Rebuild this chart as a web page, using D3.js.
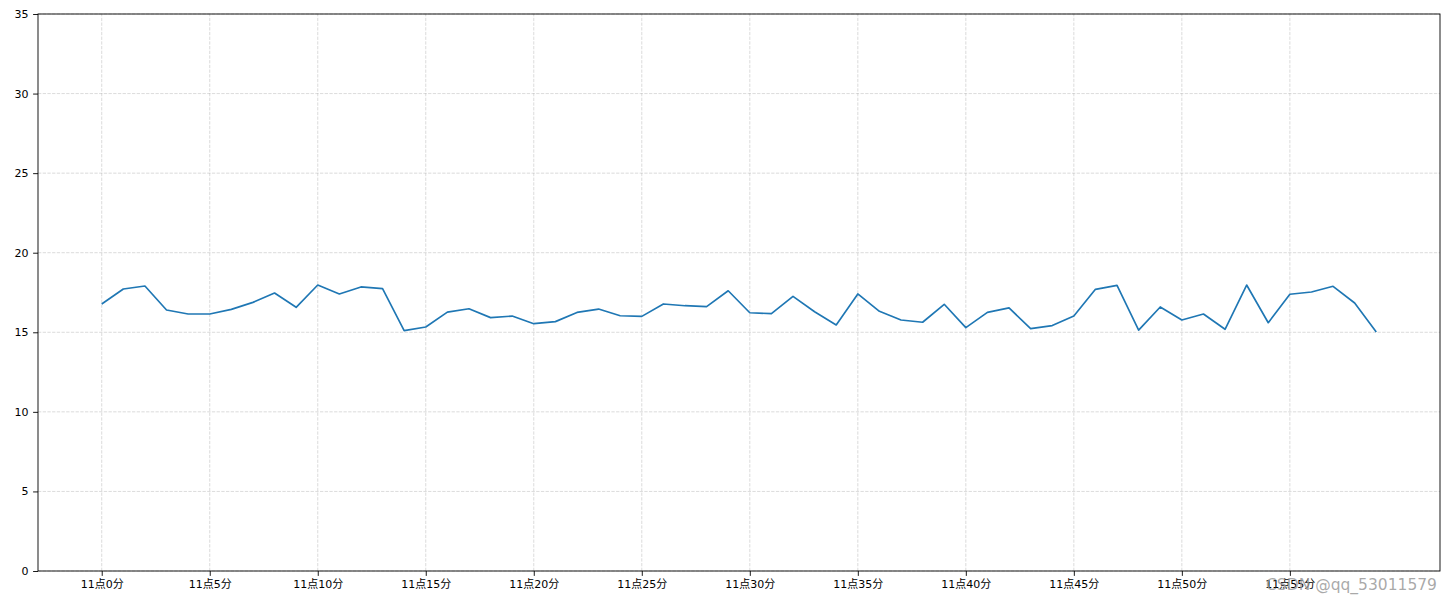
<!DOCTYPE html>
<html>
<head>
<meta charset="utf-8">
<script src="https://cdn.jsdelivr.net/npm/d3@7"></script>
<style>
  body { margin: 0; background: #fff; }
  svg text { font-family: "DejaVu Sans", "Noto Sans CJK SC", sans-serif; }
</style>
</head>
<body>
<div id="chart"></div>
<script>
// chart data: shanghai temperature, 11:00 - 11:59
const minutes = d3.range(60);
const temps = [
  16.78, 17.72, 17.91, 16.40, 16.15, 16.15, 16.44, 16.88, 17.47, 16.57,
  17.97, 17.41, 17.85, 17.74, 15.10, 15.33, 16.27, 16.48, 15.92, 16.02,
  15.54, 15.67, 16.25, 16.46, 16.04, 16.00, 16.78, 16.67, 16.61, 17.61,
  16.23, 16.17, 17.26, 16.29, 15.46, 17.41, 16.32, 15.77, 15.63, 16.76,
  15.29, 16.25, 16.53, 15.23, 15.42, 16.02, 17.70, 17.95, 15.14, 16.59,
  15.77, 16.15, 15.19, 17.97, 15.60, 17.39, 17.53, 17.89, 16.84, 15.02
];
const xTicks = minutes.filter(i => i % 5 == 0);
const xTickLabels = xTicks.map(i => '11点' + i + '分');
const yTicks = d3.range(0, 40, 5);

// configure graph
const width = 1453, height = 603;
const margin = {left: 38, right: 13, top: 14, bottom: 32};

const svg = d3.select('#chart').append('svg')
  .attr('width', width)
  .attr('height', height);

// matplotlib-like 5% margins on x
const pad = (59 - 0) * 0.05;
const x = d3.scaleLinear()
  .domain([0 - pad, 59 + pad])
  .range([margin.left, width - margin.right]);
const y = d3.scaleLinear()
  .domain([0, 35])
  .range([height - margin.bottom, margin.top]);

// grid
const grid = svg.append('g').attr('class', 'grid')
  .attr('stroke', '#b0b0b0').attr('stroke-opacity', 0.5)
  .attr('stroke-width', 0.9).attr('stroke-dasharray', '3.3,1.4');
grid.selectAll('line.v').data(xTicks).enter().append('line')
  .attr('x1', d => x(d)).attr('x2', d => x(d))
  .attr('y1', y(0)).attr('y2', y(35));
grid.selectAll('line.h').data(yTicks).enter().append('line')
  .attr('x1', x.range()[0]).attr('x2', x.range()[1])
  .attr('y1', d => y(d)).attr('y2', d => y(d));

// line
const line = d3.line()
  .x((d, i) => x(minutes[i]))
  .y(d => y(d));
svg.append('path')
  .datum(temps)
  .attr('fill', 'none')
  .attr('stroke', '#1f77b4')
  .attr('stroke-width', 1.67)
  .attr('stroke-linejoin', 'round')
  .attr('d', line);

// axes
const xAxis = d3.axisBottom(x)
  .tickValues(xTicks)
  .tickFormat((d, i) => xTickLabels[i])
  .tickSize(4.9).tickPadding(4.5).tickSizeOuter(0);
const yAxis = d3.axisLeft(y)
  .tickValues(yTicks)
  .tickSize(4.9).tickPadding(4.5).tickSizeOuter(0);

const gx = svg.append('g')
  .attr('transform', 'translate(0,' + y(0) + ')')
  .call(xAxis);
const gy = svg.append('g')
  .attr('transform', 'translate(' + x.range()[0] + ',0)')
  .call(yAxis);
[gx, gy].forEach(g => {
  g.select('.domain').remove();
  g.selectAll('line').attr('stroke', '#000').attr('stroke-width', 0.9);
  g.selectAll('text').attr('fill', '#000').style('font-size', '11px');
});

// frame (all four spines)
svg.append('rect')
  .attr('x', x.range()[0]).attr('y', y(35))
  .attr('width', x.range()[1] - x.range()[0])
  .attr('height', y(0) - y(35))
  .attr('fill', 'none').attr('stroke', '#000').attr('stroke-width', 0.9);

// watermark
svg.append('text')
  .attr('x', 1437).attr('y', 590)
  .attr('text-anchor', 'end')
  .attr('fill', '#9a9a9a').attr('fill-opacity', 0.85)
  .style('font-size', '15.5px')
  .text('CSDN @qq_53011579');
</script>
</body>
</html>
